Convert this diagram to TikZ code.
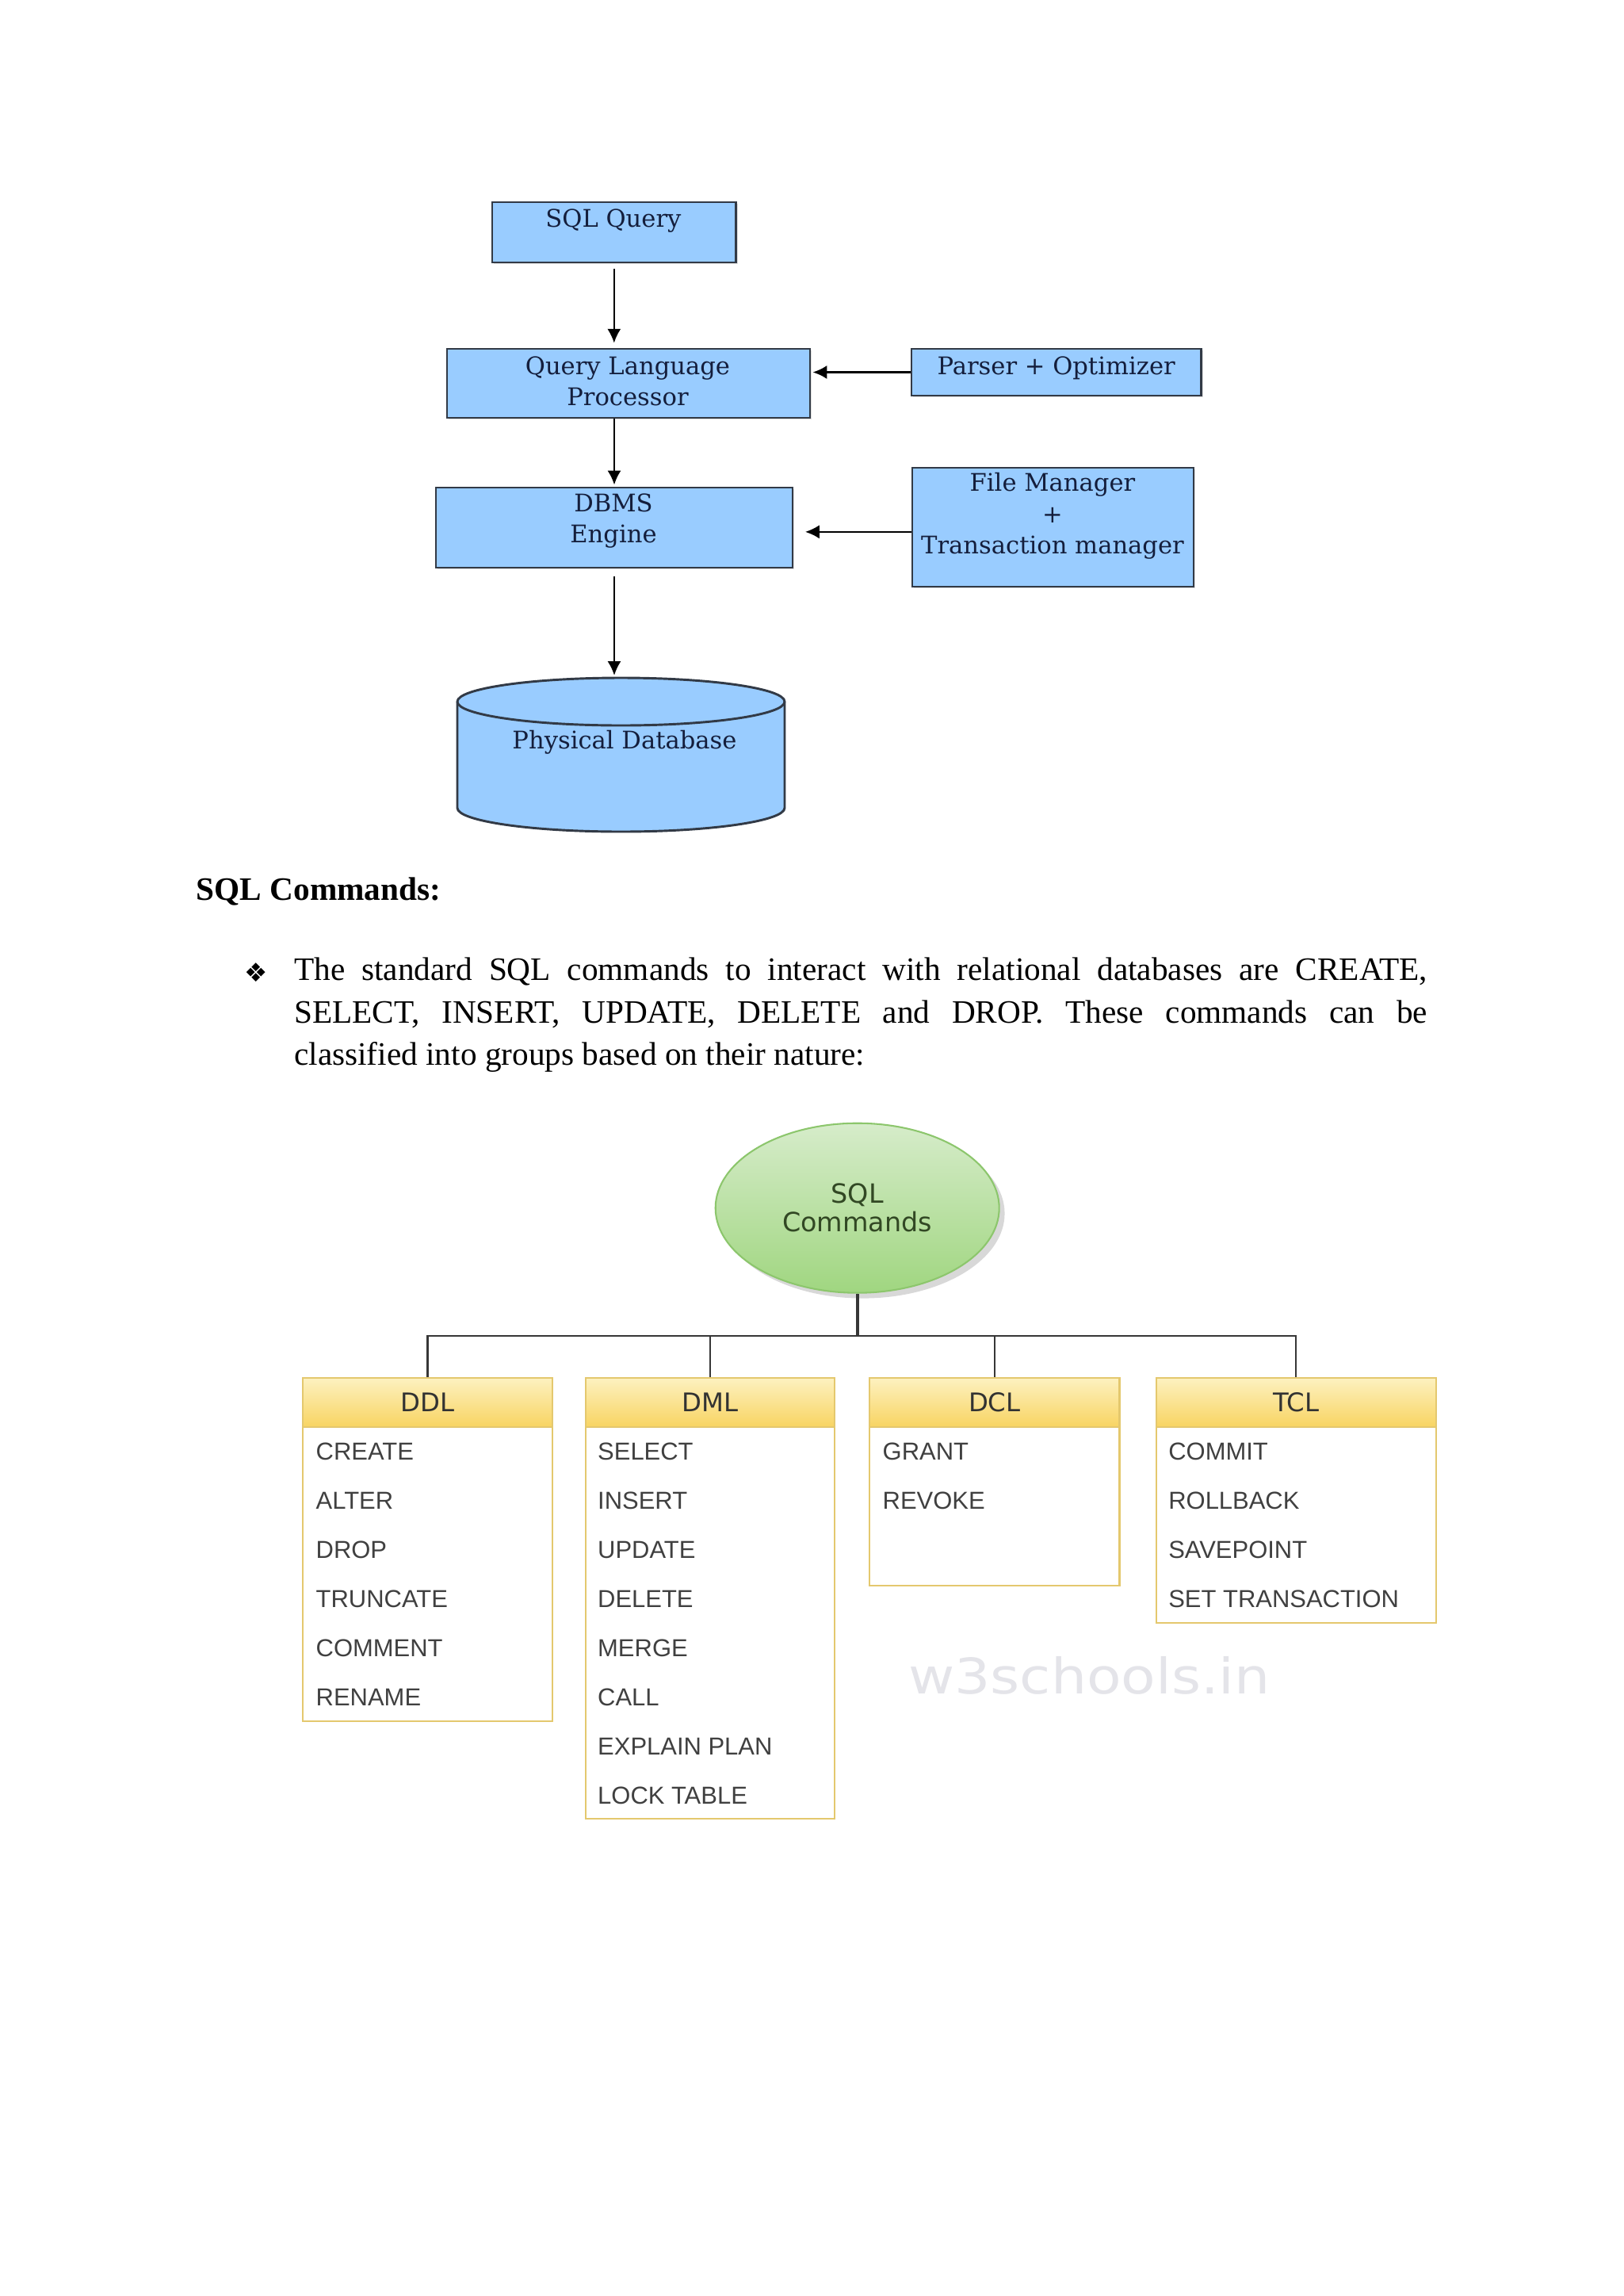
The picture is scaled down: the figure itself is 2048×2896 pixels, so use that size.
\documentclass[tikz,border=0pt]{standalone}
\usepackage{fontspec}
\setmainfont{Liberation Serif}
\newfontfamily\dvserif{DejaVu Serif}
\newfontfamily\dvsans{DejaVu Sans}
\newfontfamily\lsans{Liberation Sans}
\newfontfamily\wmfont[FakeStretch=1.15]{DejaVu Sans}
\usetikzlibrary{arrows.meta,shadows,shapes.geometric}
\definecolor{boxblue}{RGB}{153,204,255}
\definecolor{boxline}{RGB}{50,58,70}
\definecolor{navy}{RGB}{20,30,60}
\definecolor{goldline}{RGB}{228,200,110}
\definecolor{goldtop}{RGB}{253,241,192}
\definecolor{goldbot}{RGB}{248,212,98}
\definecolor{greentop}{RGB}{214,236,202}
\definecolor{greenbot}{RGB}{160,214,128}
\definecolor{greenline}{RGB}{140,198,108}
\definecolor{greentext}{RGB}{50,72,36}
\definecolor{itemgray}{RGB}{64,64,64}
\definecolor{hdrgray}{RGB}{50,50,50}
\definecolor{wmgray}{RGB}{228,228,233}
\definecolor{busgray}{RGB}{55,55,55}
\begin{document}
\begin{tikzpicture}[x=0.29066pt, y=-0.29066pt,
  sz/.style 2 args={minimum width=#1*0.29066pt, minimum height=#2*0.29066pt},
  bluebox/.style={draw=boxline, line width=0.85pt, fill=boxblue, inner sep=0pt,
    drop shadow={shadow xshift=0.7pt, shadow yshift=-0.7pt, opacity=0.25}},
  btext/.style={font=\dvserif\fontsize{8.9}{11.5}\selectfont, text=navy, align=center, inner sep=0pt},
  arr/.style={draw=black, line width=0.7pt, -{Latex[length=5.2pt,width=5pt]}},
  para/.style={anchor=base west, inner sep=0pt, font=\fontsize{12}{14}\selectfont},
  tbl/.style={draw=goldline, line width=0.6pt, fill=white, inner sep=0pt},
  hdr/.style={draw=goldline, line width=0.6pt, top color=goldtop, bottom color=goldbot, inner sep=0pt,
    font=\dvsans\fontsize{9.4}{11}\selectfont, text=hdrgray},
  item/.style={anchor=west, inner sep=0pt, font=\lsans\fontsize{9}{11}\selectfont, text=itemgray,
    text height=6.5pt, text depth=0pt},
  busline/.style={draw=busgray, line width=0.6pt},
  stem/.style={draw=busgray, line width=1.1pt}
]
\useasboundingbox (0,0) rectangle (2048,2896);
\fill[white] (0,0) rectangle (2048,2896);

% ---------- top flow diagram ----------
\node[bluebox, sz={307.6}{76}] (sq) at (774.8,293) {};
\node[btext] (sqt) at (774,279) {SQL Query};
\node[bluebox, sz={458}{87}] (qlp) at (793,483.5) {};
\node[btext] (qlpt) at (792,481) {Query Language\\Processor};
\node[bluebox, sz={365.5}{59}] (po) at (1332.75,469.5) {};
\node[btext] (pot) at (1332.7,464) {Parser + Optimizer};
\node[bluebox, sz={450}{101}] (dbms) at (775,665.5) {};
\node[btext] (dbmst) at (774,657) {DBMS\\Engine};
\node[bluebox, sz={355}{150}] (fm) at (1328.5,665) {};
\node[btext] (fmt) at (1328,651) {File Manager\\+\\Transaction manager};

% cylinder
\filldraw[fill=boxblue, draw=boxline, line width=0.85pt]
  (577,885) -- (577,1019)
  .. controls (577,1035.57) and (669.45,1049) .. (783.5,1049)
  .. controls (897.55,1049) and (990,1035.57) .. (990,1019)
  -- (990,885)
  .. controls (990,868.43) and (897.55,855) .. (783.5,855)
  .. controls (669.45,855) and (577,868.43) .. (577,885) -- cycle;
\draw[draw=boxline, line width=0.85pt]
  (577,885) .. controls (577,901.57) and (669.45,915) .. (783.5,915)
  .. controls (897.55,915) and (990,901.57) .. (990,885);
\coordinate (dbtop) at (783.5,855);
\node[btext] (dbt) at (788,936) {Physical Database};

\draw[arr, shorten <=2pt, shorten >=1.7pt] (sq.south) -- (sq.south |- qlp.north);
\draw[arr, shorten >=0.6pt] (dbms.north |- qlp.south) -- (dbms.north);
\draw[arr, shorten <=2.9pt, shorten >=0.9pt] (dbms.south) -- (dbms.south |- dbtop);
\draw[arr, shorten >=0.6pt] (po.west) -- (po.west -| qlp.east);
\draw[arr, shorten >=4.2pt] ([yshift=-1.7pt]fm.west) -- ([yshift=-1.7pt]fm.west -| dbms.east);

% ---------- text ----------
\node[para, font=\fontsize{12}{14}\selectfont\bfseries] (head) at (247,1135) {SQL Commands:};
\node[inner sep=0pt, font=\dvsans\fontsize{9.5}{10}\selectfont] (bul) at (323,1226.7) {❖};
\node[para] (l1) at (370.5,1236.7) {\makebox[415.6pt][s]{The standard SQL commands to interact with relational databases are CREATE,}};
\node[para] (l2) at (370.5,1290.7) {\makebox[415.6pt][s]{SELECT, INSERT, UPDATE, DELETE and DROP. These commands can be}};
\node[para] (l3) at (370.5,1343) {classified into groups based on their nature:};

% ---------- SQL commands tree ----------
\node[ellipse, sz={358}{214}, inner sep=0pt, draw=greenline, line width=0.6pt,
  top color=greentop, bottom color=greenbot,
  drop shadow={shadow xshift=2pt, shadow yshift=-2pt, opacity=0.3},
  align=center, font=\dvsans\fontsize{9.7}{10.4}\selectfont, text=greentext] (root) at (1081.7,1523.7) {SQL\\Commands};

\node[tbl, sz={315}{433}] (ddl) at (539.5,1954.5) {};
\node[hdr, sz={315}{62}] (ddlh) at (539.5,1769) {DDL};
\node[tbl, sz={314}{556}] (dml) at (896,2016) {};
\node[hdr, sz={314}{62}] (dmlh) at (896,1769) {DML};
\node[tbl, sz={315.5}{262}] (dcl) at (1254.75,1869) {};
\node[hdr, sz={315.5}{62}] (dclh) at (1254.75,1769) {DCL};
\node[tbl, sz={353.4}{309}] (tcl) at (1635.3,1892.5) {};
\node[hdr, sz={353.4}{62}] (tclh) at (1635.3,1769) {TCL};

\node[item] (ddl1) at (398,1830) {CREATE};
\node[item] (ddl2) at (398,1892) {ALTER};
\node[item] (ddl3) at (398,1954) {DROP};
\node[item] (ddl4) at (398,2016) {TRUNCATE};
\node[item] (ddl5) at (398,2078) {COMMENT};
\node[item] (ddl6) at (398,2140) {RENAME};

\node[item] (dml1) at (753.5,1830) {SELECT};
\node[item] (dml2) at (753.5,1892) {INSERT};
\node[item] (dml3) at (753.5,1954) {UPDATE};
\node[item] (dml4) at (753.5,2016) {DELETE};
\node[item] (dml5) at (753.5,2078) {MERGE};
\node[item] (dml6) at (753.5,2140) {CALL};
\node[item] (dml7) at (753.5,2202) {EXPLAIN PLAN};
\node[item] (dml8) at (753.5,2264) {LOCK TABLE};

\node[item] (dcl1) at (1113,1830) {GRANT};
\node[item] (dcl2) at (1113,1892) {REVOKE};

\node[item] (tcl1) at (1473.6,1830) {COMMIT};
\node[item] (tcl2) at (1473.6,1892) {ROLLBACK};
\node[item] (tcl3) at (1473.6,1954) {SAVEPOINT};
\node[item] (tcl4) at (1473.6,2016) {SET TRANSACTION};

\coordinate (bus) at (1081.7,1685);
\draw[busline] (ddlh.north) |- (bus) -| (tclh.north);
\draw[busline] (dmlh.north) -- (dmlh.north |- bus);
\draw[busline] (dclh.north) -- (dclh.north |- bus);
\draw[stem] (root.south) -- (bus);

\node[anchor=base, inner sep=0pt, font=\wmfont\fontsize{18}{20}\selectfont, text=wmgray] (wm) at (1374.5,2136) {w3schools.in};
\end{tikzpicture}
\end{document}
